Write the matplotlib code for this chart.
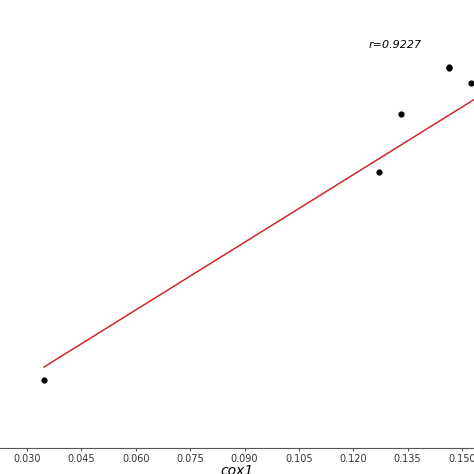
import matplotlib
matplotlib.use("Agg")
import matplotlib.pyplot as plt
import numpy as np

x_vals = [0.0347, 0.1271, 0.1332, 0.1464, 0.1465, 0.1525]
y_vals = [68, 276, 334, 381, 380, 365]
fit_x = [0.0347, 0.1540]
fit_y = [81, 350]
xticks = [0.030, 0.045, 0.060, 0.075, 0.090, 0.105, 0.120, 0.135, 0.150]

fig = plt.figure(figsize=(4.74, 4.74), dpi=100)
ax = fig.add_axes([0, 448/474*0 + 26/474, 1, 448/474])
ax.plot(fit_x, fit_y, color="#d62728", lw=1.1)
ax.scatter(x_vals, y_vals, s=12, color="black", zorder=3)
ax.set_xlim(0.02255, 0.1533)
ax.set_ylim(0, 448)
ax.set_xticks(xticks)
ax.set_xticklabels([f"{t:.3f}" for t in xticks], fontsize=7, color="#333333")
ax.tick_params(axis="x", length=2, pad=2, color="#555555")
ax.set_yticks([])
for s in ["top", "right", "left"]:
    ax.spines[s].set_visible(False)
ax.spines["bottom"].set_color("#555555")
ax.set_xlabel("cox1", fontsize=10, style="italic", labelpad=0)
ax.text(0.1315, 403, "r=0.9227", fontsize=8, style="italic", ha="center", va="center")
fig.savefig("out.png", dpi=100)
